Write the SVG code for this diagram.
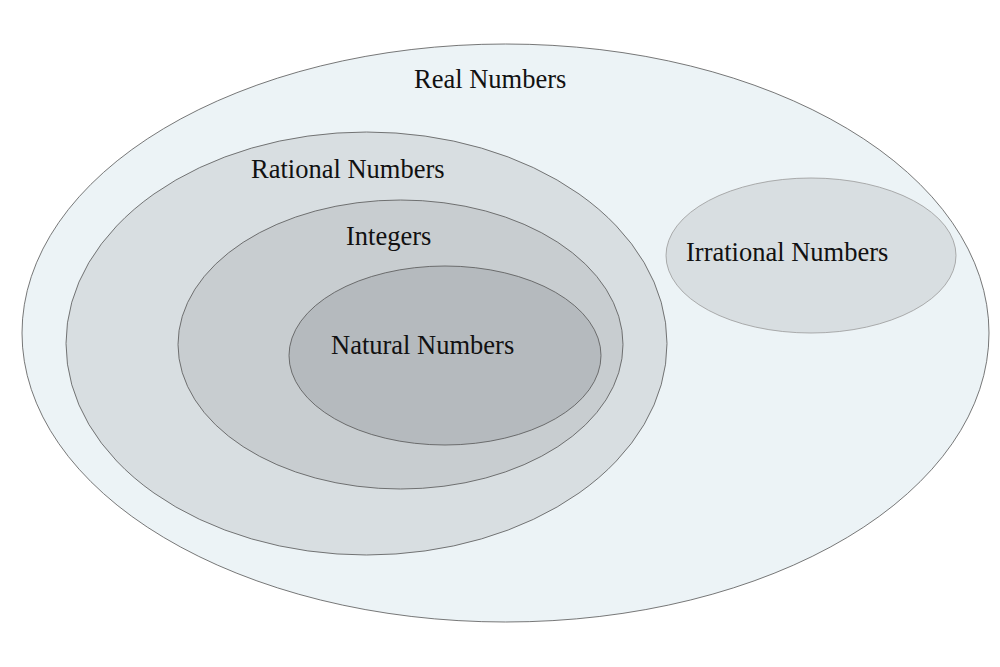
<svg xmlns="http://www.w3.org/2000/svg" width="1000" height="667" viewBox="0 0 1000 667">
<style>
.set{stroke:#555;stroke-width:0.8}
.lbl{font-family:"Liberation Serif","Times New Roman",serif;font-size:26.5px;fill:#111}
</style>
<rect width="1000" height="667" fill="#fff"/>
<g id="real">
<ellipse class="set" cx="505.5" cy="333" rx="483.5" ry="289" fill="#ecf3f6"/>
<text class="lbl" x="414" y="88">Real Numbers</text>
</g>
<g id="rational">
<ellipse class="set" cx="366.5" cy="343.5" rx="300.5" ry="211.5" fill="#d8dee1"/>
<text class="lbl" x="251" y="178">Rational Numbers</text>
</g>
<g id="integers">
<ellipse class="set" cx="400.5" cy="344.5" rx="222.5" ry="144.5" fill="#c8cdd0"/>
<text class="lbl" x="346" y="245">Integers</text>
</g>
<g id="natural">
<ellipse class="set" cx="445" cy="355.5" rx="156" ry="89.5" fill="#b5babe"/>
<text class="lbl" x="331" y="354">Natural Numbers</text>
</g>
<g id="irrational">
<ellipse cx="811" cy="255.5" rx="145" ry="77.5" fill="#d8dee1" stroke="#999" stroke-width="0.8"/>
<text class="lbl" x="686" y="261">Irrational Numbers</text>
</g>
<g id="connectors"/>
</svg>
